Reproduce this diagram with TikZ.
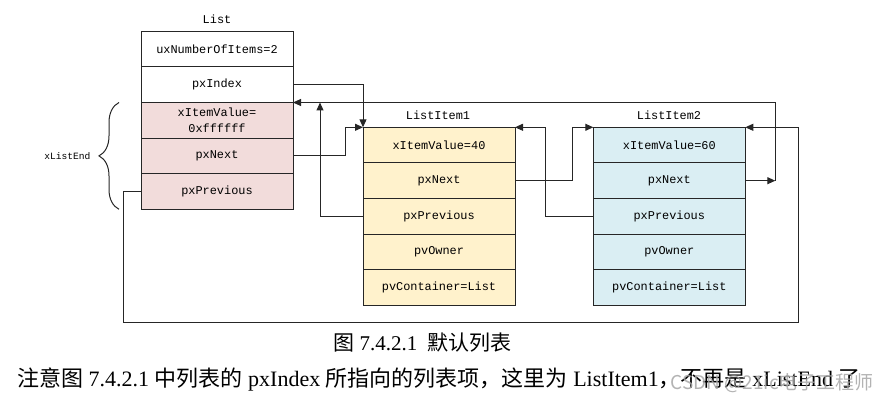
\documentclass[tikz,border=0pt]{standalone}
\usepackage{fontspec}
\setmainfont{Liberation Serif}
\setmonofont{Liberation Mono}
\newfontfamily\cjk{Noto Sans CJK SC}
\usepackage{tikz}
\usetikzlibrary{arrows.meta,positioning,calc,decorations.pathreplacing}

\definecolor{endpink}{HTML}{F2DCDB}
\definecolor{itemyellow}{HTML}{FFF2CC}
\definecolor{itemblue}{HTML}{DAEEF3}

\begin{document}
\begin{tikzpicture}[
    x=1pt, y=1pt,
    node distance=0pt,
    field/.style={rectangle, draw=black!85, line width=1pt, minimum width=152pt, minimum height=35.6pt, inner sep=0pt, outer sep=0pt, align=center, font=\fontsize{11.9}{16}\ttfamily},
    title/.style={font=\fontsize{11.9}{14}\ttfamily},
    arrow/.style={-{Triangle[length=8pt,width=7pt]}, line width=1pt, black!85},
    link/.style={line width=1pt, black!85}
]
\useasboundingbox (0,0) rectangle (890,-403);

% List
\node[title] (l-title) at (217,-19) {List};
\node[field] (l-count) at (217,-49.1) {uxNumberOfItems=2};
\node[field, below=of l-count] (l-index) {pxIndex};
\node[field, fill=endpink, below=of l-index] (l-value) {xItemValue=\\0xffffff};
\node[field, fill=endpink, below=of l-value] (l-next) {pxNext};
\node[field, fill=endpink, below=of l-next] (l-prev) {pxPrevious};

% xListEnd brace
\draw[link, decorate, decoration={brace, amplitude=20pt}] ($(l-prev.south west)+(-22,0)$) -- ($(l-value.north west)+(-22,0)$);
\coordinate (brace-tip) at ($(l-next.west)+(-42,0)$);
\node[font=\fontsize{9.6}{12}\ttfamily, left=5pt of brace-tip] (le-label) {xListEnd};

% ListItem1
\node[title] (i1-title) at (438,-115) {ListItem1};
\node[field, fill=itemyellow] (i1-value) at (439,-145.1) {xItemValue=40};
\node[field, fill=itemyellow, below=of i1-value] (i1-next) {pxNext};
\node[field, fill=itemyellow, below=of i1-next] (i1-prev) {pxPrevious};
\node[field, fill=itemyellow, below=of i1-prev] (i1-owner) {pvOwner};
\node[field, fill=itemyellow, below=of i1-owner] (i1-cont) {pvContainer=List};

% ListItem2
\node[title] (i2-title) at (669,-115) {ListItem2};
\node[field, fill=itemblue] (i2-value) at (669.3,-145.1) {xItemValue=60};
\node[field, fill=itemblue, below=of i2-value] (i2-next) {pxNext};
\node[field, fill=itemblue, below=of i2-next] (i2-prev) {pxPrevious};
\node[field, fill=itemblue, below=of i2-prev] (i2-owner) {pvOwner};
\node[field, fill=itemblue, below=of i2-owner] (i2-cont) {pvContainer=List};

% pointers
\draw[arrow] (l-index.east) -| (i1-value.north west);
\draw[arrow] (l-next.east) -- ++(52,0) |- (i1-value.north west);
\draw[arrow] (i1-prev.west) -| ($(l-value.north east)+(27,0)$);
\draw[arrow] (i1-next.east) -- ++(57.7,0) |- (i2-value.north west);
\draw[arrow] (i2-prev.west) -- ++(-47.6,0) |- (i1-value.north east);
\coordinate (i2-ret) at ($(i2-next.east)+(30,0)$);
\draw[arrow] (i2-next.east) -- (i2-ret);
\draw[arrow] (i2-ret) |- (l-value.north east);
\coordinate (loop) at (798,-322);
\draw[arrow] (l-prev.west) -- ++(-18,0) |- (loop) |- (i2-value.north east);

% captions
\node[font=\fontsize{21}{25}\selectfont] (fig-cap) at (422.5,-343) {{\cjk 图} 7.4.2.1\ \ {\cjk 默认列表}};
\node[font=\fontsize{22}{26}\selectfont, anchor=west, inner sep=0pt] (note) at (17,-379) {{\cjk 注意图} 7.4.2.1 {\cjk 中列表的} pxIndex {\cjk 所指向的列表项，这里为} ListItem1{\cjk ，不再是} xListEnd {\cjk 了}};
\node[font=\cjk\fontsize{19}{22}\selectfont, text=gray!70, opacity=0.85, anchor=east, inner sep=0pt] (mark) at (874,-383) {CSDN @21ic电子工程师};

\end{tikzpicture}
\end{document}
